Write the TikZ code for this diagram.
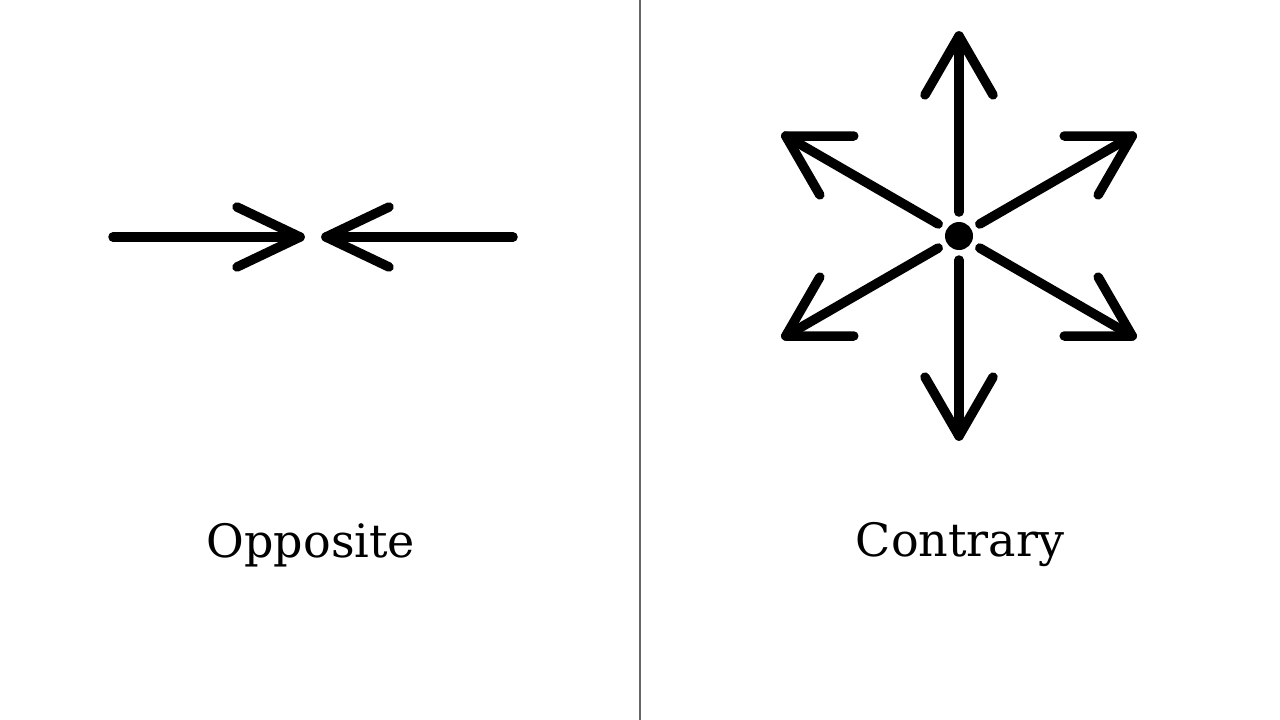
\documentclass[tikz,border=0pt]{standalone}
\usepackage{fontspec}
\setmainfont{DejaVu Serif}
\usetikzlibrary{calc}
\begin{document}
\begin{tikzpicture}[x=1pt,y=-1pt,
  arr/.style={line width=9.5pt,line cap=round,line join=round},
  lbl/.style={font=\fontsize{46}{54}\selectfont}]
\useasboundingbox (0,0) rectangle (1280,720);
% divider
\draw[line width=2pt,gray!80!black] (640,0) -- (640,720);
% opposite
\coordinate (la) at (113,237); \coordinate (lt) at (300,237);
\coordinate (ra) at (513,237); \coordinate (rt) at (326,237);
\draw[arr] (la) -- (lt);
\draw[arr] (237,207) -- (lt) -- (237,267);
\draw[arr] (ra) -- (rt);
\draw[arr] (389,207) -- (rt) -- (389,267);
\node[lbl] (op) at (311,545) {Opposite};
% contrary
\coordinate (c) at (959,236);
\fill (c) circle (14);
\foreach \a in {90,30,-30,-90,-150,150}{
  \draw[arr] ($(c)+(\a:24)$) -- ($(c)+(\a:200)$);
  \draw[arr] ($(c)+(\a:200)+(\a+150:68)$) -- ($(c)+(\a:200)$) -- ($(c)+(\a:200)+(\a-150:68)$);
}
\node[lbl] (co) at (960,545) {Contrary};
\end{tikzpicture}
\end{document}
